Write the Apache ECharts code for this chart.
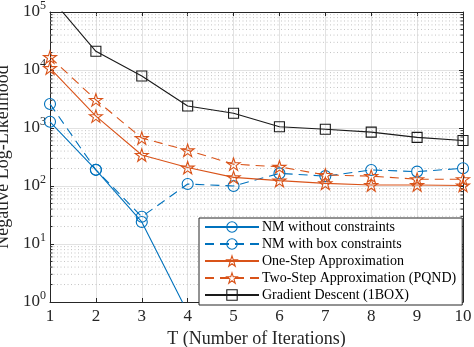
<!DOCTYPE html>
<html>
<head>
<meta charset="utf-8">
<script src="https://cdn.jsdelivr.net/npm/echarts@6/dist/echarts.min.js"></script>
<style>html,body{margin:0;padding:0;background:#fff}#c{width:474px;height:347px}</style>
</head>
<body>
<div id="c"></div>
<script>
const iterations = [1, 2, 3, 4, 5, 6, 7, 8, 9, 10];
const nmNoConstraint = [1280, 190, 24, 0.66];
const nmBox = [2600, 190, 29.5, 108, 100, 165, 148, 189, 177, 202];
const oneStep = [10800, 1600, 342, 208, 141, 124, 111, 104, 104, 102];
const twoStep = [16700, 3050, 670, 412, 238, 214, 155, 148, 131, 131];
const gradDesc = [180000, 21000, 7900, 2400, 1800, 1050, 950, 850, 690, 610];
const seriesNames = ['NM without constraints', 'NM with box constraints', 'One-Step Approximation', 'Two-Step Approximation (PQND)', 'Gradient Descent (1BOX)'];
const yTickExponents = [0, 1, 2, 3, 4, 5];

const minorValues = [];
for (let e = 0; e < 5; e++) for (let m = 2; m <= 9; m++) minorValues.push([1, m * Math.pow(10, e)]);

const FONT = '"Liberation Serif", "DejaVu Serif", serif';
const AX = '#262626';
const BLUE = '#0072BD', ORANGE = '#D95319', BLACK = '#1a1a1a';
const STAR = 'path://M50 0 L61.23 34.55 L97.55 34.55 L68.17 55.9 L79.39 90.45 L50 69.1 L20.61 90.45 L31.83 55.9 L2.45 34.55 L38.77 34.55 Z';
const seriesColors = [BLUE, BLUE, ORANGE, ORANGE, BLACK];

function pairs(vals) { return vals.map((v, i) => [iterations[i], v]); }

function mk(name, vals, color, dashed, symbol, size) {
  return {
    name, type: 'line', data: pairs(vals), clip: true, z: 5,
    symbol, symbolSize: size, symbolKeepAspect: true, showAllSymbol: true,
    lineStyle: { color, width: 1.1, type: dashed ? [9, 6] : 'solid' },
    itemStyle: { color: 'rgba(255,255,255,0)', borderColor: color, borderWidth: 1.1 },
    emphasis: { disabled: true }, animation: false
  };
}

const chart = echarts.init(document.getElementById('c'), null, { renderer: 'canvas' });
chart.setOption({
  animation: false,
  backgroundColor: '#fff',
  textStyle: { fontFamily: FONT },
  grid: { left: 50, right: 11, top: 12, bottom: 45, containLabel: false, outerBoundsMode: 'none' },
  legend: {
    data: seriesNames.map((n, i) => ({
      name: n,
      itemStyle: { color: 'rgba(255,255,255,0)', borderColor: seriesColors[i], borderWidth: 1.1 }
    })),
    orient: 'vertical', left: 199, top: 218,
    itemWidth: 54, itemHeight: 13, itemGap: 3,
    padding: [2, 6, 3, 5],
    backgroundColor: '#fff', borderColor: AX, borderWidth: 1, borderRadius: 0,
    textStyle: { fontFamily: FONT, fontSize: 14, color: '#000', padding: [0, 0, 0, -2] },
    selectedMode: false
  },
  xAxis: [{
    type: 'value', min: 1, max: 10, interval: 1, position: 'bottom',
    name: 'T (Number of Iterations)', nameLocation: 'middle', nameGap: 25,
    nameTextStyle: { fontFamily: FONT, fontSize: 18, color: AX },
    axisLine: { show: true, lineStyle: { color: AX, width: 1 } },
    axisTick: { show: true, inside: true, length: 4, lineStyle: { color: AX } },
    axisLabel: { fontFamily: FONT, fontSize: 17, color: AX, margin: 6 },
    splitLine: { show: true, lineStyle: { color: '#e2e2e2', width: 1 } }
  }, {
    type: 'value', min: 1, max: 10, interval: 1, position: 'top',
    axisLine: { show: true, onZero: false, lineStyle: { color: AX, width: 1 } },
    axisTick: { show: true, inside: true, length: 4, lineStyle: { color: AX } },
    axisLabel: { show: false }, splitLine: { show: false }
  }],
  yAxis: [{
    type: 'log', logBase: 10, min: 1, max: 100000, position: 'left',
    name: 'Negative Log-Likelihood', nameLocation: 'middle', nameGap: 33,
    nameTextStyle: { fontFamily: FONT, fontSize: 18, color: AX },
    axisLine: { show: true, lineStyle: { color: AX, width: 1 } },
    axisTick: { show: true, inside: true, length: 4, lineStyle: { color: AX } },
    axisLabel: {
      fontFamily: FONT, color: AX, margin: 4,
      formatter: function (v) {
        const e = Math.round(Math.log10(v));
        return yTickExponents.indexOf(e) >= 0 ? '{b|10}{s|' + e + '}' : '';
      },
      rich: {
        b: { fontFamily: FONT, fontSize: 17, color: AX },
        s: { fontFamily: FONT, fontSize: 12, color: AX, padding: [0, 0, 12, 0] }
      }
    },
    splitLine: { show: true, lineStyle: { color: '#e2e2e2', width: 1 } }
  }, {
    type: 'log', logBase: 10, min: 1, max: 100000, position: 'right',
    axisLine: { show: true, onZero: false, lineStyle: { color: AX, width: 1 } },
    axisTick: { show: true, inside: true, length: 4, lineStyle: { color: AX } },
    axisLabel: { show: false }, splitLine: { show: false }
  }],
  series: [
    {
      type: 'custom', name: 'minor', data: minorValues, z: 1, silent: true, clip: true,
      encode: { x: 0, y: 1 },
      renderItem: function (params, api) {
        const v = api.value(1);
        const p1 = api.coord([1, v]);
        const p2 = api.coord([10, v]);
        return {
          type: 'group', children: [
            { type: 'line', shape: { x1: p1[0], y1: p1[1], x2: p2[0], y2: p2[1] },
              style: { stroke: '#c4c4c4', lineWidth: 1, lineDash: [1, 2.5] } },
            { type: 'line', shape: { x1: p1[0], y1: p1[1], x2: p1[0] + 2.5, y2: p1[1] },
              style: { stroke: AX, lineWidth: 1 } },
            { type: 'line', shape: { x1: p2[0] - 2.5, y1: p2[1], x2: p2[0], y2: p2[1] },
              style: { stroke: AX, lineWidth: 1 } }
          ]
        };
      }
    },
    mk(seriesNames[0], nmNoConstraint, BLUE, false, 'circle', 11),
    mk(seriesNames[1], nmBox, BLUE, true, 'circle', 11),
    mk(seriesNames[2], oneStep, ORANGE, false, STAR, 13),
    mk(seriesNames[3], twoStep, ORANGE, true, STAR, 13),
    mk(seriesNames[4], gradDesc, BLACK, false, 'rect', 10)
  ]
});
</script>
</body>
</html>
